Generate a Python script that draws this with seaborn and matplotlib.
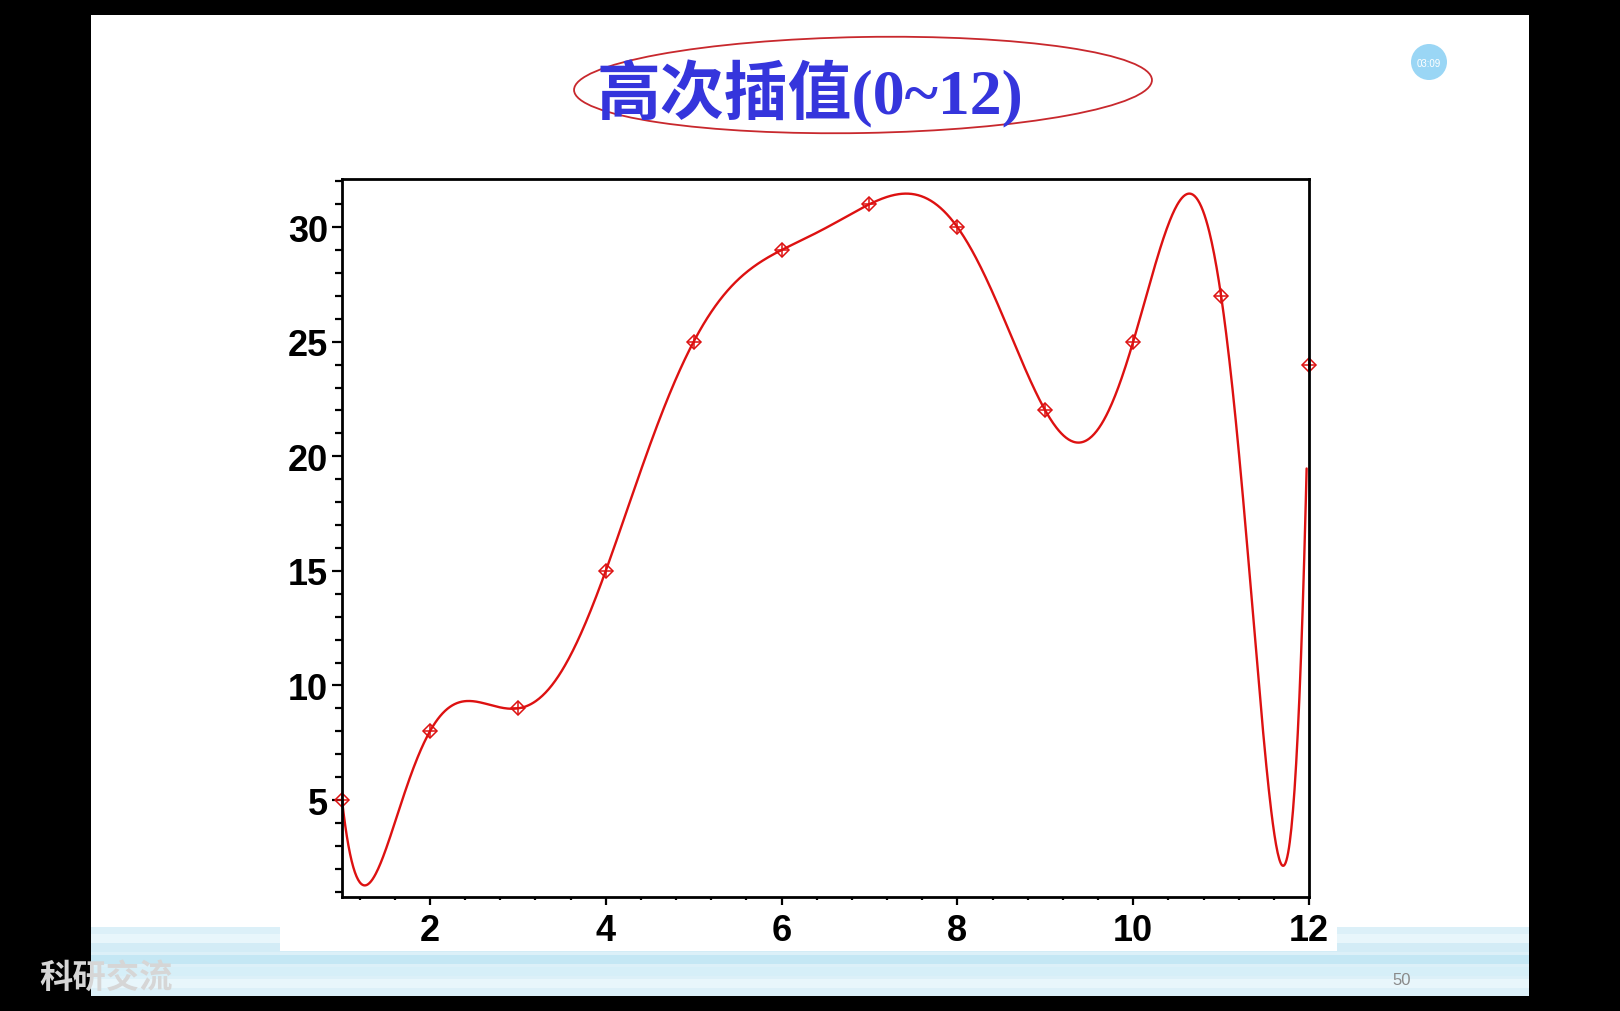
import numpy as np
import matplotlib
matplotlib.use("Agg")
import matplotlib.pyplot as plt
from matplotlib.patches import Rectangle, Ellipse, Circle
from matplotlib.ticker import MultipleLocator
import seaborn as sns

# data points (nodes) of the interpolation
x_nodes = [1, 2, 3, 4, 5, 6, 7, 8, 9, 10, 11, 12]
y_nodes = [5, 8, 9, 15, 25, 29, 31, 30, 22, 25, 27, 24]
x_ticks = [2, 4, 6, 8, 10, 12]
y_ticks = [5, 10, 15, 20, 25, 30]
title = "高次插值(0~12)"

sns.set_style("ticks")
plt.rcParams["font.family"] = ["Liberation Sans", "Noto Sans CJK SC", "DejaVu Sans"]

RED = "#dd1111"
W, H = 1620, 1012
fig = plt.figure(figsize=(W / 100, H / 100), dpi=100)
fig.patch.set_facecolor("white")

# slide background (pixel coords, y from top)
bg = fig.add_axes([0, 0, 1, 1], zorder=-5)
bg.set_xlim(0, W)
bg.set_ylim(H, 0)
bg.axis("off")
bg.add_patch(Rectangle((91, 928), 1438, 70, color="#dcf0f8", lw=0))
for y0, c in [(935, "#e8f6fb"), (944, "#d3ecf6"), (956, "#c4e7f4"), (968, "#d6eff8"), (980, "#e8f6fb")]:
    bg.add_patch(Rectangle((91, y0), 1438, 9, color=c, lw=0))
bg.add_patch(Rectangle((280, 0), 1057, 952, color="white", lw=0))
# black borders of the screen capture
bg.add_patch(Rectangle((0, 0), W, 16, color="black", lw=0))
bg.add_patch(Rectangle((0, 997), W, 15, color="black", lw=0))
bg.add_patch(Rectangle((0, 0), 91, H, color="black", lw=0))
bg.add_patch(Rectangle((1529, 0), 91, H, color="black", lw=0))
# timer bubble
bg.add_patch(Circle((1429, 63), 18, color="#9ad6f5", lw=0))
bg.text(1429, 64, "03:09", color="white", fontsize=7, ha="center", va="center")
bg.text(1402, 981, "50", color="#8a8a8a", fontsize=12, ha="center", va="center")
bg.text(106, 978, "科研交流", color="#d6d6d6", fontsize=24, fontweight="bold",
        ha="center", va="center", family=["Noto Sans CJK SC"])
# title and hand-drawn ellipse
bg.add_patch(Ellipse((863, 86), 578, 96, angle=-1.0, fill=False, ec="#c8282d", lw=1.3))
bg.text(810, 114, title, color="#3535dc", fontsize=46, fontweight="bold",
        ha="center", va="baseline", family=["Liberation Serif", "Noto Sans CJK SC"])

# plot axes
ax = fig.add_axes([342 / W, 1 - 898 / H, 967 / W, 718 / H])
ax.set_facecolor("white")

poly = np.polynomial.Polynomial.fit(x_nodes, y_nodes, deg=len(x_nodes) - 1)
xs = np.linspace(x_nodes[0], x_nodes[-1] - 0.027, 1200)
sns.lineplot(x=xs, y=poly(xs), ax=ax, color=RED, linewidth=1.7, sort=False, estimator=None)
sns.lineplot(x=x_nodes, y=y_nodes, ax=ax, linestyle="", marker="D", markersize=7.5,
             markerfacecolor="none", markeredgecolor=RED, markeredgewidth=1.1,
             estimator=None, clip_on=False)
sns.lineplot(x=x_nodes, y=y_nodes, ax=ax, linestyle="", marker="+", markersize=8.5,
             markeredgecolor=RED, markeredgewidth=1.1, estimator=None, clip_on=False)

ax.set_xlim(1, 12)
ax.set_ylim(0.77, 32.1)
ax.set_xticks(x_ticks)
ax.set_yticks(y_ticks)
ax.xaxis.set_minor_locator(MultipleLocator(0.4))
ax.yaxis.set_minor_locator(MultipleLocator(1))
for s in ax.spines.values():
    s.set_linewidth(2.0)
    s.set_color("black")
ax.tick_params(axis="x", which="major", length=5.5, width=1.6, pad=6, labelsize=26,
               direction="out", color="black", labelcolor="black")
ax.tick_params(axis="x", which="minor", length=2.5, width=1.6, direction="out", color="black")
ax.tick_params(axis="y", which="major", length=7, width=1.6, pad=3, labelsize=26,
               direction="out", color="black", labelcolor="black")
ax.tick_params(axis="y", which="minor", length=5, width=1.6, direction="out", color="black")
for lab in ax.get_xticklabels() + ax.get_yticklabels():
    lab.set_fontweight("bold")
ax.set_xlabel("")
ax.set_ylabel("")

fig.savefig("out.png", dpi=100)
